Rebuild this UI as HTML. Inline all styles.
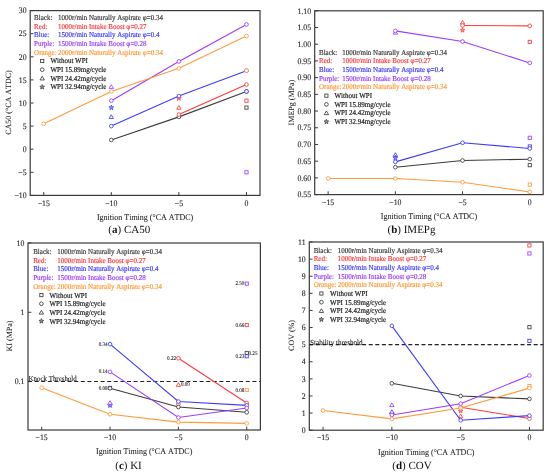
<!DOCTYPE html>
<html><head><meta charset="utf-8"><style>
html,body{margin:0;padding:0;background:#fff;width:550px;height:473px;overflow:hidden;}
svg{display:block;filter:blur(0.3px);color:#222;}
text{font-family:"Liberation Serif", serif;text-rendering:geometricPrecision;font-kerning:none;stroke:currentColor;stroke-width:0.18px;}
</style></head><body>
<svg width="550" height="473" viewBox="0 0 550 473">
<rect width="550" height="473" fill="#fff"/>
<rect x="30.20" y="10.60" width="229.80" height="184.80" fill="none" stroke="#3a3a3a" stroke-width="1.2"/>
<line x1="30.20" y1="195.40" x2="33.50" y2="195.40" stroke="#3a3a3a" stroke-width="1"/>
<text transform="translate(26.60,198.10) scale(1,1.08)" font-size="7.8" text-anchor="end" fill="#222" color="#222" style="stroke-width:0.1px">−10</text>
<line x1="30.20" y1="172.30" x2="33.50" y2="172.30" stroke="#3a3a3a" stroke-width="1"/>
<text transform="translate(26.60,175.00) scale(1,1.08)" font-size="7.8" text-anchor="end" fill="#222" color="#222" style="stroke-width:0.1px">−5</text>
<line x1="30.20" y1="149.20" x2="33.50" y2="149.20" stroke="#3a3a3a" stroke-width="1"/>
<text transform="translate(26.60,151.90) scale(1,1.08)" font-size="7.8" text-anchor="end" fill="#222" color="#222" style="stroke-width:0.1px">0</text>
<line x1="30.20" y1="126.10" x2="33.50" y2="126.10" stroke="#3a3a3a" stroke-width="1"/>
<text transform="translate(26.60,128.80) scale(1,1.08)" font-size="7.8" text-anchor="end" fill="#222" color="#222" style="stroke-width:0.1px">5</text>
<line x1="30.20" y1="103.00" x2="33.50" y2="103.00" stroke="#3a3a3a" stroke-width="1"/>
<text transform="translate(26.60,105.70) scale(1,1.08)" font-size="7.8" text-anchor="end" fill="#222" color="#222" style="stroke-width:0.1px">10</text>
<line x1="30.20" y1="79.90" x2="33.50" y2="79.90" stroke="#3a3a3a" stroke-width="1"/>
<text transform="translate(26.60,82.60) scale(1,1.08)" font-size="7.8" text-anchor="end" fill="#222" color="#222" style="stroke-width:0.1px">15</text>
<line x1="30.20" y1="56.80" x2="33.50" y2="56.80" stroke="#3a3a3a" stroke-width="1"/>
<text transform="translate(26.60,59.50) scale(1,1.08)" font-size="7.8" text-anchor="end" fill="#222" color="#222" style="stroke-width:0.1px">20</text>
<line x1="30.20" y1="33.70" x2="33.50" y2="33.70" stroke="#3a3a3a" stroke-width="1"/>
<text transform="translate(26.60,36.40) scale(1,1.08)" font-size="7.8" text-anchor="end" fill="#222" color="#222" style="stroke-width:0.1px">25</text>
<line x1="30.20" y1="10.60" x2="33.50" y2="10.60" stroke="#3a3a3a" stroke-width="1"/>
<text transform="translate(26.60,13.30) scale(1,1.08)" font-size="7.8" text-anchor="end" fill="#222" color="#222" style="stroke-width:0.1px">30</text>
<line x1="43.72" y1="195.40" x2="43.72" y2="192.10" stroke="#3a3a3a" stroke-width="1"/>
<text transform="translate(43.72,205.60) scale(1,1.08)" font-size="7.8" text-anchor="middle" fill="#222" color="#222" style="stroke-width:0.1px">−15</text>
<line x1="111.31" y1="195.40" x2="111.31" y2="192.10" stroke="#3a3a3a" stroke-width="1"/>
<text transform="translate(111.31,205.60) scale(1,1.08)" font-size="7.8" text-anchor="middle" fill="#222" color="#222" style="stroke-width:0.1px">−10</text>
<line x1="178.89" y1="195.40" x2="178.89" y2="192.10" stroke="#3a3a3a" stroke-width="1"/>
<text transform="translate(178.89,205.60) scale(1,1.08)" font-size="7.8" text-anchor="middle" fill="#222" color="#222" style="stroke-width:0.1px">−5</text>
<line x1="246.48" y1="195.40" x2="246.48" y2="192.10" stroke="#3a3a3a" stroke-width="1"/>
<text transform="translate(246.48,205.60) scale(1,1.08)" font-size="7.8" text-anchor="middle" fill="#222" color="#222" style="stroke-width:0.1px">0</text>
<text transform="translate(34.10,20.00) scale(1,1.08)" font-size="7.0" text-anchor="start" fill="#3c3c3c" color="#3c3c3c">Black:</text>
<text transform="translate(58.10,20.00) scale(1,1.08)" font-size="7.0" text-anchor="start" fill="#3c3c3c" color="#3c3c3c">1000r/min Naturally Aspirate φ=0.34</text>
<text transform="translate(34.10,28.68) scale(1,1.08)" font-size="7.0" text-anchor="start" fill="#ff3b3b" color="#ff3b3b">Red:</text>
<text transform="translate(58.10,28.68) scale(1,1.08)" font-size="7.0" text-anchor="start" fill="#ff3b3b" color="#ff3b3b">1000r/min Intake Boost φ=0.27</text>
<text transform="translate(34.10,37.36) scale(1,1.08)" font-size="7.0" text-anchor="start" fill="#3b3bff" color="#3b3bff">Blue:</text>
<text transform="translate(58.10,37.36) scale(1,1.08)" font-size="7.0" text-anchor="start" fill="#3b3bff" color="#3b3bff">1500r/min Naturally Aspirate φ=0.4</text>
<text transform="translate(34.10,46.04) scale(1,1.08)" font-size="7.0" text-anchor="start" fill="#9b3bff" color="#9b3bff">Purple:</text>
<text transform="translate(58.10,46.04) scale(1,1.08)" font-size="7.0" text-anchor="start" fill="#9b3bff" color="#9b3bff">1500r/min Intake Boost φ=0.28</text>
<text transform="translate(34.10,54.72) scale(1,1.08)" font-size="7.0" text-anchor="start" fill="#ff9b3b" color="#ff9b3b">Orange:</text>
<text transform="translate(58.10,54.72) scale(1,1.08)" font-size="7.0" text-anchor="start" fill="#ff9b3b" color="#ff9b3b">2000r/min Naturally Aspirate φ=0.34</text>
<rect x="40.60" y="59.40" width="3.2" height="3.2" fill="#fff" stroke="#3c3c3c" stroke-width="0.85"/>
<text transform="translate(50.40,63.40) scale(1,1.08)" font-size="7.0" text-anchor="start" fill="#222" color="#222">Without WPI</text>
<circle cx="42.20" cy="69.68" r="1.85" fill="#fff" stroke="#3c3c3c" stroke-width="0.85"/>
<text transform="translate(50.40,72.08) scale(1,1.08)" font-size="7.0" text-anchor="start" fill="#222" color="#222">WPI 15.89mg/cycle</text>
<path d="M42.20,76.26 L44.40,79.96 L40.00,79.96 Z" fill="#fff" stroke="#3c3c3c" stroke-width="0.85"/>
<text transform="translate(50.40,80.76) scale(1,1.08)" font-size="7.0" text-anchor="start" fill="#222" color="#222">WPI 24.42mg/cycle</text>
<polygon points="42.20,84.54 42.85,86.15 44.58,86.27 43.25,87.38 43.67,89.06 42.20,88.14 40.73,89.06 41.15,87.38 39.82,86.27 41.55,86.15" fill="#3c3c3c" fill-opacity="0.55" stroke="#3c3c3c" stroke-width="0.7"/>
<text transform="translate(50.40,89.44) scale(1,1.08)" font-size="7.0" text-anchor="start" fill="#222" color="#222">WPI 32.94mg/cycle</text>
<rect x="244.88" y="106.02" width="3.2" height="3.2" fill="#fff" stroke="#3c3c3c" stroke-width="0.85"/>
<rect x="244.88" y="99.09" width="3.2" height="3.2" fill="#fff" stroke="#ff3b3b" stroke-width="0.85"/>
<path d="M178.89,105.52 L181.09,109.22 L176.69,109.22 Z" fill="#fff" stroke="#ff3b3b" stroke-width="0.85"/>
<polygon points="178.89,95.88 179.54,97.49 181.27,97.61 179.94,98.72 180.36,100.40 178.89,99.48 177.42,100.40 177.85,98.72 176.52,97.61 178.25,97.49" fill="#ff3b3b" fill-opacity="0.55" stroke="#ff3b3b" stroke-width="0.7"/>
<path d="M111.31,114.76 L113.51,118.46 L109.11,118.46 Z" fill="#fff" stroke="#3b3bff" stroke-width="0.85"/>
<polygon points="111.31,105.12 111.95,106.73 113.68,106.85 112.35,107.96 112.78,109.64 111.31,108.72 109.84,109.64 110.26,107.96 108.93,106.85 110.66,106.73" fill="#3b3bff" fill-opacity="0.55" stroke="#3b3bff" stroke-width="0.7"/>
<path d="M111.31,84.73 L113.51,88.43 L109.11,88.43 Z" fill="#fff" stroke="#9b3bff" stroke-width="0.85"/>
<rect x="244.88" y="170.70" width="3.2" height="3.2" fill="#fff" stroke="#9b3bff" stroke-width="0.85"/>
<polyline points="111.31,139.96 178.89,116.86 246.48,91.45" fill="none" stroke="#3c3c3c" stroke-width="1.1"/>
<circle cx="111.31" cy="139.96" r="1.85" fill="#fff" stroke="#3c3c3c" stroke-width="0.85"/>
<circle cx="178.89" cy="116.86" r="1.85" fill="#fff" stroke="#3c3c3c" stroke-width="0.85"/>
<circle cx="246.48" cy="91.45" r="1.85" fill="#fff" stroke="#3c3c3c" stroke-width="0.85"/>
<polyline points="178.89,114.55 246.48,84.52" fill="none" stroke="#ff3b3b" stroke-width="1.1"/>
<circle cx="178.89" cy="114.55" r="1.85" fill="#fff" stroke="#ff3b3b" stroke-width="0.85"/>
<circle cx="246.48" cy="84.52" r="1.85" fill="#fff" stroke="#ff3b3b" stroke-width="0.85"/>
<polyline points="111.31,126.10 178.89,96.07 246.48,70.66" fill="none" stroke="#3b3bff" stroke-width="1.1"/>
<circle cx="111.31" cy="126.10" r="1.85" fill="#fff" stroke="#3b3bff" stroke-width="0.85"/>
<circle cx="178.89" cy="96.07" r="1.85" fill="#fff" stroke="#3b3bff" stroke-width="0.85"/>
<circle cx="246.48" cy="70.66" r="1.85" fill="#fff" stroke="#3b3bff" stroke-width="0.85"/>
<polyline points="111.31,100.69 178.89,61.42 246.48,24.46" fill="none" stroke="#9b3bff" stroke-width="1.1"/>
<circle cx="111.31" cy="100.69" r="1.85" fill="#fff" stroke="#9b3bff" stroke-width="0.85"/>
<circle cx="178.89" cy="61.42" r="1.85" fill="#fff" stroke="#9b3bff" stroke-width="0.85"/>
<circle cx="246.48" cy="24.46" r="1.85" fill="#fff" stroke="#9b3bff" stroke-width="0.85"/>
<polyline points="43.72,123.79 111.31,91.45 178.89,68.35 246.48,36.01" fill="none" stroke="#ff9b3b" stroke-width="1.1"/>
<circle cx="43.72" cy="123.79" r="1.85" fill="#fff" stroke="#ff9b3b" stroke-width="0.85"/>
<circle cx="111.31" cy="91.45" r="1.85" fill="#fff" stroke="#ff9b3b" stroke-width="0.85"/>
<circle cx="178.89" cy="68.35" r="1.85" fill="#fff" stroke="#ff9b3b" stroke-width="0.85"/>
<circle cx="246.48" cy="36.01" r="1.85" fill="#fff" stroke="#ff9b3b" stroke-width="0.85"/>
<circle cx="246.48" cy="91.45" r="1.85" fill="#fff" stroke="#3b3bff" stroke-width="0.85"/>
<circle cx="246.48" cy="70.66" r="1.85" fill="#fff" stroke="#ff9b3b" stroke-width="0.85"/>
<text transform="translate(145.10,219.60) scale(1,1.08)" font-size="8.0" text-anchor="middle" fill="#222" color="#222" style="stroke-width:0.06px">Ignition Timing (°CA ATDC)</text>
<text transform="translate(11.20,102.50) rotate(-90)" font-size="8.0" text-anchor="middle" fill="#222" color="#222" style="stroke-width:0.06px">CA50 (°CA ATDC)</text>
<text x="129.30" y="233.20" font-size="11" text-anchor="middle" fill="#111" style="stroke:none">(<tspan font-weight="bold">a</tspan>) CA50</text>
<rect x="314.70" y="10.80" width="228.50" height="183.80" fill="none" stroke="#3a3a3a" stroke-width="1.2"/>
<line x1="314.70" y1="194.60" x2="318.00" y2="194.60" stroke="#3a3a3a" stroke-width="1"/>
<text transform="translate(311.10,197.30) scale(1,1.08)" font-size="7.8" text-anchor="end" fill="#222" color="#222" style="stroke-width:0.1px">0.55</text>
<line x1="314.70" y1="177.89" x2="318.00" y2="177.89" stroke="#3a3a3a" stroke-width="1"/>
<text transform="translate(311.10,180.59) scale(1,1.08)" font-size="7.8" text-anchor="end" fill="#222" color="#222" style="stroke-width:0.1px">0.60</text>
<line x1="314.70" y1="161.18" x2="318.00" y2="161.18" stroke="#3a3a3a" stroke-width="1"/>
<text transform="translate(311.10,163.88) scale(1,1.08)" font-size="7.8" text-anchor="end" fill="#222" color="#222" style="stroke-width:0.1px">0.65</text>
<line x1="314.70" y1="144.47" x2="318.00" y2="144.47" stroke="#3a3a3a" stroke-width="1"/>
<text transform="translate(311.10,147.17) scale(1,1.08)" font-size="7.8" text-anchor="end" fill="#222" color="#222" style="stroke-width:0.1px">0.70</text>
<line x1="314.70" y1="127.76" x2="318.00" y2="127.76" stroke="#3a3a3a" stroke-width="1"/>
<text transform="translate(311.10,130.46) scale(1,1.08)" font-size="7.8" text-anchor="end" fill="#222" color="#222" style="stroke-width:0.1px">0.75</text>
<line x1="314.70" y1="111.05" x2="318.00" y2="111.05" stroke="#3a3a3a" stroke-width="1"/>
<text transform="translate(311.10,113.75) scale(1,1.08)" font-size="7.8" text-anchor="end" fill="#222" color="#222" style="stroke-width:0.1px">0.80</text>
<line x1="314.70" y1="94.35" x2="318.00" y2="94.35" stroke="#3a3a3a" stroke-width="1"/>
<text transform="translate(311.10,97.05) scale(1,1.08)" font-size="7.8" text-anchor="end" fill="#222" color="#222" style="stroke-width:0.1px">0.85</text>
<line x1="314.70" y1="77.64" x2="318.00" y2="77.64" stroke="#3a3a3a" stroke-width="1"/>
<text transform="translate(311.10,80.34) scale(1,1.08)" font-size="7.8" text-anchor="end" fill="#222" color="#222" style="stroke-width:0.1px">0.90</text>
<line x1="314.70" y1="60.93" x2="318.00" y2="60.93" stroke="#3a3a3a" stroke-width="1"/>
<text transform="translate(311.10,63.63) scale(1,1.08)" font-size="7.8" text-anchor="end" fill="#222" color="#222" style="stroke-width:0.1px">0.95</text>
<line x1="314.70" y1="44.22" x2="318.00" y2="44.22" stroke="#3a3a3a" stroke-width="1"/>
<text transform="translate(311.10,46.92) scale(1,1.08)" font-size="7.8" text-anchor="end" fill="#222" color="#222" style="stroke-width:0.1px">1.00</text>
<line x1="314.70" y1="27.51" x2="318.00" y2="27.51" stroke="#3a3a3a" stroke-width="1"/>
<text transform="translate(311.10,30.21) scale(1,1.08)" font-size="7.8" text-anchor="end" fill="#222" color="#222" style="stroke-width:0.1px">1.05</text>
<line x1="314.70" y1="10.80" x2="318.00" y2="10.80" stroke="#3a3a3a" stroke-width="1"/>
<text transform="translate(311.10,13.50) scale(1,1.08)" font-size="7.8" text-anchor="end" fill="#222" color="#222" style="stroke-width:0.1px">1.10</text>
<line x1="328.14" y1="194.60" x2="328.14" y2="191.30" stroke="#3a3a3a" stroke-width="1"/>
<text transform="translate(328.14,205.30) scale(1,1.08)" font-size="7.8" text-anchor="middle" fill="#222" color="#222" style="stroke-width:0.1px">−15</text>
<line x1="395.35" y1="194.60" x2="395.35" y2="191.30" stroke="#3a3a3a" stroke-width="1"/>
<text transform="translate(395.35,205.30) scale(1,1.08)" font-size="7.8" text-anchor="middle" fill="#222" color="#222" style="stroke-width:0.1px">−10</text>
<line x1="462.55" y1="194.60" x2="462.55" y2="191.30" stroke="#3a3a3a" stroke-width="1"/>
<text transform="translate(462.55,205.30) scale(1,1.08)" font-size="7.8" text-anchor="middle" fill="#222" color="#222" style="stroke-width:0.1px">−5</text>
<line x1="529.76" y1="194.60" x2="529.76" y2="191.30" stroke="#3a3a3a" stroke-width="1"/>
<text transform="translate(529.76,205.30) scale(1,1.08)" font-size="7.8" text-anchor="middle" fill="#222" color="#222" style="stroke-width:0.1px">0</text>
<text transform="translate(319.00,54.70) scale(1,1.08)" font-size="7.0" text-anchor="start" fill="#3c3c3c" color="#3c3c3c">Black:</text>
<text transform="translate(342.20,54.70) scale(1,1.08)" font-size="7.0" text-anchor="start" fill="#3c3c3c" color="#3c3c3c">1000r/min Naturally Aspirate φ=0.34</text>
<text transform="translate(319.00,63.38) scale(1,1.08)" font-size="7.0" text-anchor="start" fill="#ff3b3b" color="#ff3b3b">Red:</text>
<text transform="translate(342.20,63.38) scale(1,1.08)" font-size="7.0" text-anchor="start" fill="#ff3b3b" color="#ff3b3b">1000r/min Intake Boost φ=0.27</text>
<text transform="translate(319.00,72.06) scale(1,1.08)" font-size="7.0" text-anchor="start" fill="#3b3bff" color="#3b3bff">Blue:</text>
<text transform="translate(342.20,72.06) scale(1,1.08)" font-size="7.0" text-anchor="start" fill="#3b3bff" color="#3b3bff">1500r/min Naturally Aspirate φ=0.4</text>
<text transform="translate(319.00,80.74) scale(1,1.08)" font-size="7.0" text-anchor="start" fill="#9b3bff" color="#9b3bff">Purple:</text>
<text transform="translate(342.20,80.74) scale(1,1.08)" font-size="7.0" text-anchor="start" fill="#9b3bff" color="#9b3bff">1500r/min Intake Boost φ=0.28</text>
<text transform="translate(319.00,89.42) scale(1,1.08)" font-size="7.0" text-anchor="start" fill="#ff9b3b" color="#ff9b3b">Orange:</text>
<text transform="translate(342.20,89.42) scale(1,1.08)" font-size="7.0" text-anchor="start" fill="#ff9b3b" color="#ff9b3b">2000r/min Naturally Aspirate φ=0.34</text>
<rect x="324.80" y="94.10" width="3.2" height="3.2" fill="#fff" stroke="#3c3c3c" stroke-width="0.85"/>
<text transform="translate(334.50,98.10) scale(1,1.08)" font-size="7.0" text-anchor="start" fill="#222" color="#222">Without WPI</text>
<circle cx="326.40" cy="104.38" r="1.85" fill="#fff" stroke="#3c3c3c" stroke-width="0.85"/>
<text transform="translate(334.50,106.78) scale(1,1.08)" font-size="7.0" text-anchor="start" fill="#222" color="#222">WPI 15.89mg/cycle</text>
<path d="M326.40,110.96 L328.60,114.66 L324.20,114.66 Z" fill="#fff" stroke="#3c3c3c" stroke-width="0.85"/>
<text transform="translate(334.50,115.46) scale(1,1.08)" font-size="7.0" text-anchor="start" fill="#222" color="#222">WPI 24.42mg/cycle</text>
<polygon points="326.40,119.24 327.05,120.85 328.78,120.97 327.45,122.08 327.87,123.76 326.40,122.84 324.93,123.76 325.35,122.08 324.02,120.97 325.75,120.85" fill="#3c3c3c" fill-opacity="0.55" stroke="#3c3c3c" stroke-width="0.7"/>
<text transform="translate(334.50,124.14) scale(1,1.08)" font-size="7.0" text-anchor="start" fill="#222" color="#222">WPI 32.94mg/cycle</text>
<rect x="528.16" y="163.59" width="3.2" height="3.2" fill="#fff" stroke="#3c3c3c" stroke-width="0.85"/>
<rect x="528.16" y="40.28" width="3.2" height="3.2" fill="#fff" stroke="#ff3b3b" stroke-width="0.85"/>
<path d="M462.55,20.40 L464.75,24.10 L460.35,24.10 Z" fill="#fff" stroke="#ff3b3b" stroke-width="0.85"/>
<polygon points="462.55,27.68 463.20,29.29 464.93,29.41 463.60,30.52 464.02,32.21 462.55,31.28 461.08,32.21 461.51,30.52 460.18,29.41 461.91,29.29" fill="#ff3b3b" fill-opacity="0.55" stroke="#ff3b3b" stroke-width="0.7"/>
<path d="M395.35,152.73 L397.55,156.43 L393.15,156.43 Z" fill="#fff" stroke="#3b3bff" stroke-width="0.85"/>
<polygon points="395.35,155.34 395.99,156.95 397.72,157.07 396.39,158.18 396.82,159.86 395.35,158.94 393.88,159.86 394.30,158.18 392.97,157.07 394.70,156.95" fill="#3b3bff" fill-opacity="0.55" stroke="#3b3bff" stroke-width="0.7"/>
<rect x="528.16" y="144.88" width="3.2" height="3.2" fill="#fff" stroke="#3b3bff" stroke-width="0.85"/>
<path d="M395.35,30.42 L397.55,34.12 L393.15,34.12 Z" fill="#fff" stroke="#9b3bff" stroke-width="0.85"/>
<rect x="528.16" y="136.19" width="3.2" height="3.2" fill="#fff" stroke="#9b3bff" stroke-width="0.85"/>
<rect x="528.16" y="182.97" width="3.2" height="3.2" fill="#fff" stroke="#ff9b3b" stroke-width="0.85"/>
<polyline points="395.35,167.20 462.55,160.51 529.76,159.18" fill="none" stroke="#3c3c3c" stroke-width="1.1"/>
<circle cx="395.35" cy="167.20" r="1.85" fill="#fff" stroke="#3c3c3c" stroke-width="0.85"/>
<circle cx="462.55" cy="160.51" r="1.85" fill="#fff" stroke="#3c3c3c" stroke-width="0.85"/>
<circle cx="529.76" cy="159.18" r="1.85" fill="#fff" stroke="#3c3c3c" stroke-width="0.85"/>
<polyline points="462.55,25.50 529.76,25.84" fill="none" stroke="#ff3b3b" stroke-width="1.1"/>
<circle cx="462.55" cy="25.50" r="1.85" fill="#fff" stroke="#ff3b3b" stroke-width="0.85"/>
<circle cx="529.76" cy="25.84" r="1.85" fill="#fff" stroke="#ff3b3b" stroke-width="0.85"/>
<polyline points="395.35,161.85 462.55,142.80 529.76,148.48" fill="none" stroke="#3b3bff" stroke-width="1.1"/>
<circle cx="395.35" cy="161.85" r="1.85" fill="#fff" stroke="#3b3bff" stroke-width="0.85"/>
<circle cx="462.55" cy="142.80" r="1.85" fill="#fff" stroke="#3b3bff" stroke-width="0.85"/>
<circle cx="529.76" cy="148.48" r="1.85" fill="#fff" stroke="#3b3bff" stroke-width="0.85"/>
<polyline points="395.35,30.85 462.55,41.54 529.76,62.93" fill="none" stroke="#9b3bff" stroke-width="1.1"/>
<circle cx="395.35" cy="30.85" r="1.85" fill="#fff" stroke="#9b3bff" stroke-width="0.85"/>
<circle cx="462.55" cy="41.54" r="1.85" fill="#fff" stroke="#9b3bff" stroke-width="0.85"/>
<circle cx="529.76" cy="62.93" r="1.85" fill="#fff" stroke="#9b3bff" stroke-width="0.85"/>
<polyline points="328.14,178.56 395.35,178.56 462.55,182.24 529.76,191.93" fill="none" stroke="#ff9b3b" stroke-width="1.1"/>
<circle cx="328.14" cy="178.56" r="1.85" fill="#fff" stroke="#ff9b3b" stroke-width="0.85"/>
<circle cx="395.35" cy="178.56" r="1.85" fill="#fff" stroke="#ff9b3b" stroke-width="0.85"/>
<circle cx="462.55" cy="182.24" r="1.85" fill="#fff" stroke="#ff9b3b" stroke-width="0.85"/>
<circle cx="529.76" cy="191.93" r="1.85" fill="#fff" stroke="#ff9b3b" stroke-width="0.85"/>
<text transform="translate(428.95,219.40) scale(1,1.08)" font-size="8.0" text-anchor="middle" fill="#222" color="#222" style="stroke-width:0.06px">Ignition Timing (°CA ATDC)</text>
<text transform="translate(294.20,102.60) rotate(-90)" font-size="8.0" text-anchor="middle" fill="#222" color="#222" style="stroke-width:0.06px">IMEPg (MPa)</text>
<text x="411.50" y="233.20" font-size="11" text-anchor="middle" fill="#111" style="stroke:none">(<tspan font-weight="bold">b</tspan>) IMEPg</text>
<rect x="28.00" y="243.00" width="232.40" height="187.00" fill="none" stroke="#3a3a3a" stroke-width="1.2"/>
<line x1="28.00" y1="243.00" x2="31.30" y2="243.00" stroke="#3a3a3a" stroke-width="1"/>
<text transform="translate(24.40,245.70) scale(1,1.08)" font-size="7.8" text-anchor="end" fill="#222" color="#222" style="stroke-width:0.1px">10</text>
<line x1="28.00" y1="312.29" x2="31.30" y2="312.29" stroke="#3a3a3a" stroke-width="1"/>
<text transform="translate(24.40,314.99) scale(1,1.08)" font-size="7.8" text-anchor="end" fill="#222" color="#222" style="stroke-width:0.1px">1</text>
<line x1="28.00" y1="381.57" x2="31.30" y2="381.57" stroke="#3a3a3a" stroke-width="1"/>
<text transform="translate(24.40,384.27) scale(1,1.08)" font-size="7.8" text-anchor="end" fill="#222" color="#222" style="stroke-width:0.1px">0.1</text>
<line x1="41.67" y1="430.00" x2="41.67" y2="426.70" stroke="#3a3a3a" stroke-width="1"/>
<text transform="translate(41.67,440.00) scale(1,1.08)" font-size="7.8" text-anchor="middle" fill="#222" color="#222" style="stroke-width:0.1px">−15</text>
<line x1="110.02" y1="430.00" x2="110.02" y2="426.70" stroke="#3a3a3a" stroke-width="1"/>
<text transform="translate(110.02,440.00) scale(1,1.08)" font-size="7.8" text-anchor="middle" fill="#222" color="#222" style="stroke-width:0.1px">−10</text>
<line x1="178.38" y1="430.00" x2="178.38" y2="426.70" stroke="#3a3a3a" stroke-width="1"/>
<text transform="translate(178.38,440.00) scale(1,1.08)" font-size="7.8" text-anchor="middle" fill="#222" color="#222" style="stroke-width:0.1px">−5</text>
<line x1="246.73" y1="430.00" x2="246.73" y2="426.70" stroke="#3a3a3a" stroke-width="1"/>
<text transform="translate(246.73,440.00) scale(1,1.08)" font-size="7.8" text-anchor="middle" fill="#222" color="#222" style="stroke-width:0.1px">0</text>
<text transform="translate(33.20,254.10) scale(1,1.08)" font-size="7.0" text-anchor="start" fill="#3c3c3c" color="#3c3c3c">Black:</text>
<text transform="translate(57.20,254.10) scale(1,1.08)" font-size="7.0" text-anchor="start" fill="#3c3c3c" color="#3c3c3c">1000r/min Naturally Aspirate φ=0.34</text>
<text transform="translate(33.20,262.78) scale(1,1.08)" font-size="7.0" text-anchor="start" fill="#ff3b3b" color="#ff3b3b">Red:</text>
<text transform="translate(57.20,262.78) scale(1,1.08)" font-size="7.0" text-anchor="start" fill="#ff3b3b" color="#ff3b3b">1000r/min Intake Boost φ=0.27</text>
<text transform="translate(33.20,271.46) scale(1,1.08)" font-size="7.0" text-anchor="start" fill="#3b3bff" color="#3b3bff">Blue:</text>
<text transform="translate(57.20,271.46) scale(1,1.08)" font-size="7.0" text-anchor="start" fill="#3b3bff" color="#3b3bff">1500r/min Naturally Aspirate φ=0.4</text>
<text transform="translate(33.20,280.14) scale(1,1.08)" font-size="7.0" text-anchor="start" fill="#9b3bff" color="#9b3bff">Purple:</text>
<text transform="translate(57.20,280.14) scale(1,1.08)" font-size="7.0" text-anchor="start" fill="#9b3bff" color="#9b3bff">1500r/min Intake Boost φ=0.28</text>
<text transform="translate(33.20,288.82) scale(1,1.08)" font-size="7.0" text-anchor="start" fill="#ff9b3b" color="#ff9b3b">Orange:</text>
<text transform="translate(57.20,288.82) scale(1,1.08)" font-size="7.0" text-anchor="start" fill="#ff9b3b" color="#ff9b3b">2000r/min Naturally Aspirate φ=0.34</text>
<rect x="39.80" y="293.50" width="3.2" height="3.2" fill="#fff" stroke="#3c3c3c" stroke-width="0.85"/>
<text transform="translate(49.50,297.50) scale(1,1.08)" font-size="7.0" text-anchor="start" fill="#222" color="#222">Without WPI</text>
<circle cx="41.40" cy="303.78" r="1.85" fill="#fff" stroke="#3c3c3c" stroke-width="0.85"/>
<text transform="translate(49.50,306.18) scale(1,1.08)" font-size="7.0" text-anchor="start" fill="#222" color="#222">WPI 15.89mg/cycle</text>
<path d="M41.40,310.36 L43.60,314.06 L39.20,314.06 Z" fill="#fff" stroke="#3c3c3c" stroke-width="0.85"/>
<text transform="translate(49.50,314.86) scale(1,1.08)" font-size="7.0" text-anchor="start" fill="#222" color="#222">WPI 24.42mg/cycle</text>
<polygon points="41.40,318.64 42.05,320.25 43.78,320.37 42.45,321.48 42.87,323.16 41.40,322.24 39.93,323.16 40.35,321.48 39.02,320.37 40.75,320.25" fill="#3c3c3c" fill-opacity="0.55" stroke="#3c3c3c" stroke-width="0.7"/>
<text transform="translate(49.50,323.54) scale(1,1.08)" font-size="7.0" text-anchor="start" fill="#222" color="#222">WPI 32.94mg/cycle</text>
<line x1="28.00" y1="381.57" x2="260.40" y2="381.57" stroke="#222" stroke-width="1.1" stroke-dasharray="4,2.6"/>
<text transform="translate(28.60,380.87) scale(1,1.08)" font-size="6.9" text-anchor="start" fill="#222" color="#222" style="stroke-width:0.1px">Knock Threshold</text>
<rect x="245.13" y="351.34" width="3.2" height="3.2" fill="#fff" stroke="#3c3c3c" stroke-width="0.85"/>
<rect x="245.13" y="323.46" width="3.2" height="3.2" fill="#fff" stroke="#ff3b3b" stroke-width="0.85"/>
<path d="M178.38,382.68 L180.58,386.38 L176.18,386.38 Z" fill="#fff" stroke="#ff3b3b" stroke-width="0.85"/>
<circle cx="178.38" cy="404.10" r="1.85" fill="#fff" stroke="#ff3b3b" stroke-width="0.85"/>
<rect x="245.13" y="354.65" width="3.2" height="3.2" fill="#fff" stroke="#3b3bff" stroke-width="0.85"/>
<polygon points="110.02,402.90 110.67,404.51 112.40,404.63 111.07,405.74 111.49,407.42 110.02,406.50 108.55,407.42 108.98,405.74 107.65,404.63 109.38,404.51" fill="#3b3bff" fill-opacity="0.55" stroke="#3b3bff" stroke-width="0.7"/>
<rect x="108.42" y="386.31" width="3.2" height="3.2" fill="#fff" stroke="#3b3bff" stroke-width="0.85"/>
<rect x="245.13" y="282.05" width="3.2" height="3.2" fill="#fff" stroke="#9b3bff" stroke-width="0.85"/>
<path d="M110.02,400.69 L112.22,404.39 L107.82,404.39 Z" fill="#fff" stroke="#9b3bff" stroke-width="0.85"/>
<rect x="245.13" y="388.39" width="3.2" height="3.2" fill="#fff" stroke="#ff9b3b" stroke-width="0.85"/>
<polyline points="110.02,388.29 178.38,406.97 246.73,412.31" fill="none" stroke="#3c3c3c" stroke-width="1.1"/>
<circle cx="110.02" cy="388.29" r="1.85" fill="#fff" stroke="#3c3c3c" stroke-width="0.85"/>
<circle cx="178.38" cy="406.97" r="1.85" fill="#fff" stroke="#3c3c3c" stroke-width="0.85"/>
<circle cx="246.73" cy="412.31" r="1.85" fill="#fff" stroke="#3c3c3c" stroke-width="0.85"/>
<polyline points="178.38,358.26 246.73,403.04" fill="none" stroke="#ff3b3b" stroke-width="1.1"/>
<circle cx="178.38" cy="358.26" r="1.85" fill="#fff" stroke="#ff3b3b" stroke-width="0.85"/>
<circle cx="246.73" cy="403.04" r="1.85" fill="#fff" stroke="#ff3b3b" stroke-width="0.85"/>
<polyline points="110.02,344.13 178.38,401.54 246.73,405.40" fill="none" stroke="#3b3bff" stroke-width="1.1"/>
<circle cx="110.02" cy="344.13" r="1.85" fill="#fff" stroke="#3b3bff" stroke-width="0.85"/>
<circle cx="178.38" cy="401.54" r="1.85" fill="#fff" stroke="#3b3bff" stroke-width="0.85"/>
<circle cx="246.73" cy="405.40" r="1.85" fill="#fff" stroke="#3b3bff" stroke-width="0.85"/>
<polyline points="110.02,371.88 178.38,417.50 246.73,408.04" fill="none" stroke="#9b3bff" stroke-width="1.1"/>
<circle cx="110.02" cy="371.88" r="1.85" fill="#fff" stroke="#9b3bff" stroke-width="0.85"/>
<circle cx="178.38" cy="417.50" r="1.85" fill="#fff" stroke="#9b3bff" stroke-width="0.85"/>
<circle cx="246.73" cy="408.04" r="1.85" fill="#fff" stroke="#9b3bff" stroke-width="0.85"/>
<polyline points="41.67,387.76 110.02,414.21 178.38,422.11 246.73,423.41" fill="none" stroke="#ff9b3b" stroke-width="1.1"/>
<circle cx="41.67" cy="387.76" r="1.85" fill="#fff" stroke="#ff9b3b" stroke-width="0.85"/>
<circle cx="110.02" cy="414.21" r="1.85" fill="#fff" stroke="#ff9b3b" stroke-width="0.85"/>
<circle cx="178.38" cy="422.11" r="1.85" fill="#fff" stroke="#ff9b3b" stroke-width="0.85"/>
<circle cx="246.73" cy="423.41" r="1.85" fill="#fff" stroke="#ff9b3b" stroke-width="0.85"/>
<text transform="translate(107.62,345.73) scale(1,1.08)" font-size="5.1" text-anchor="end" fill="#222" color="#222" style="stroke-width:0.08px">0.34</text>
<text transform="translate(107.62,373.48) scale(1,1.08)" font-size="5.1" text-anchor="end" fill="#222" color="#222" style="stroke-width:0.08px">0.14</text>
<text transform="translate(107.62,389.89) scale(1,1.08)" font-size="5.1" text-anchor="end" fill="#222" color="#222" style="stroke-width:0.08px">0.08</text>
<text transform="translate(175.98,359.86) scale(1,1.08)" font-size="5.1" text-anchor="end" fill="#222" color="#222" style="stroke-width:0.08px">0.22</text>
<text transform="translate(180.98,386.38) scale(1,1.08)" font-size="5.1" text-anchor="start" fill="#222" color="#222" style="stroke-width:0.08px">0.09</text>
<text transform="translate(244.33,285.25) scale(1,1.08)" font-size="5.1" text-anchor="end" fill="#222" color="#222" style="stroke-width:0.08px">2.59</text>
<text transform="translate(244.33,326.66) scale(1,1.08)" font-size="5.1" text-anchor="end" fill="#222" color="#222" style="stroke-width:0.08px">0.66</text>
<text transform="translate(248.53,354.54) scale(1,1.08)" font-size="5.1" text-anchor="start" fill="#222" color="#222" style="stroke-width:0.08px">0.25</text>
<text transform="translate(244.33,357.85) scale(1,1.08)" font-size="5.1" text-anchor="end" fill="#222" color="#222" style="stroke-width:0.08px">0.23</text>
<text transform="translate(244.33,391.59) scale(1,1.08)" font-size="5.1" text-anchor="end" fill="#222" color="#222" style="stroke-width:0.08px">0.08</text>
<text transform="translate(144.20,454.40) scale(1,1.08)" font-size="8.0" text-anchor="middle" fill="#222" color="#222" style="stroke-width:0.06px">Ignition Timing (°CA ATDC)</text>
<text transform="translate(11.90,336.00) rotate(-90)" font-size="8.0" text-anchor="middle" fill="#222" color="#222" style="stroke-width:0.06px">KI (MPa)</text>
<text x="128.50" y="469.00" font-size="11" text-anchor="middle" fill="#111" style="stroke:none">(<tspan font-weight="bold">c</tspan>) KI</text>
<rect x="309.30" y="242.00" width="233.90" height="188.20" fill="none" stroke="#3a3a3a" stroke-width="1.2"/>
<line x1="309.30" y1="430.20" x2="312.60" y2="430.20" stroke="#3a3a3a" stroke-width="1"/>
<text transform="translate(305.70,432.90) scale(1,1.08)" font-size="7.8" text-anchor="end" fill="#222" color="#222" style="stroke-width:0.1px">0</text>
<line x1="309.30" y1="413.09" x2="312.60" y2="413.09" stroke="#3a3a3a" stroke-width="1"/>
<text transform="translate(305.70,415.79) scale(1,1.08)" font-size="7.8" text-anchor="end" fill="#222" color="#222" style="stroke-width:0.1px">1</text>
<line x1="309.30" y1="395.98" x2="312.60" y2="395.98" stroke="#3a3a3a" stroke-width="1"/>
<text transform="translate(305.70,398.68) scale(1,1.08)" font-size="7.8" text-anchor="end" fill="#222" color="#222" style="stroke-width:0.1px">2</text>
<line x1="309.30" y1="378.87" x2="312.60" y2="378.87" stroke="#3a3a3a" stroke-width="1"/>
<text transform="translate(305.70,381.57) scale(1,1.08)" font-size="7.8" text-anchor="end" fill="#222" color="#222" style="stroke-width:0.1px">3</text>
<line x1="309.30" y1="361.76" x2="312.60" y2="361.76" stroke="#3a3a3a" stroke-width="1"/>
<text transform="translate(305.70,364.46) scale(1,1.08)" font-size="7.8" text-anchor="end" fill="#222" color="#222" style="stroke-width:0.1px">4</text>
<line x1="309.30" y1="344.65" x2="312.60" y2="344.65" stroke="#3a3a3a" stroke-width="1"/>
<text transform="translate(305.70,347.35) scale(1,1.08)" font-size="7.8" text-anchor="end" fill="#222" color="#222" style="stroke-width:0.1px">5</text>
<line x1="309.30" y1="327.55" x2="312.60" y2="327.55" stroke="#3a3a3a" stroke-width="1"/>
<text transform="translate(305.70,330.25) scale(1,1.08)" font-size="7.8" text-anchor="end" fill="#222" color="#222" style="stroke-width:0.1px">6</text>
<line x1="309.30" y1="310.44" x2="312.60" y2="310.44" stroke="#3a3a3a" stroke-width="1"/>
<text transform="translate(305.70,313.14) scale(1,1.08)" font-size="7.8" text-anchor="end" fill="#222" color="#222" style="stroke-width:0.1px">7</text>
<line x1="309.30" y1="293.33" x2="312.60" y2="293.33" stroke="#3a3a3a" stroke-width="1"/>
<text transform="translate(305.70,296.03) scale(1,1.08)" font-size="7.8" text-anchor="end" fill="#222" color="#222" style="stroke-width:0.1px">8</text>
<line x1="309.30" y1="276.22" x2="312.60" y2="276.22" stroke="#3a3a3a" stroke-width="1"/>
<text transform="translate(305.70,278.92) scale(1,1.08)" font-size="7.8" text-anchor="end" fill="#222" color="#222" style="stroke-width:0.1px">9</text>
<line x1="309.30" y1="259.11" x2="312.60" y2="259.11" stroke="#3a3a3a" stroke-width="1"/>
<text transform="translate(305.70,261.81) scale(1,1.08)" font-size="7.8" text-anchor="end" fill="#222" color="#222" style="stroke-width:0.1px">10</text>
<line x1="309.30" y1="242.00" x2="312.60" y2="242.00" stroke="#3a3a3a" stroke-width="1"/>
<text transform="translate(305.70,244.70) scale(1,1.08)" font-size="7.8" text-anchor="end" fill="#222" color="#222" style="stroke-width:0.1px">11</text>
<line x1="323.06" y1="430.20" x2="323.06" y2="426.90" stroke="#3a3a3a" stroke-width="1"/>
<text transform="translate(323.06,440.20) scale(1,1.08)" font-size="7.8" text-anchor="middle" fill="#222" color="#222" style="stroke-width:0.1px">−15</text>
<line x1="391.85" y1="430.20" x2="391.85" y2="426.90" stroke="#3a3a3a" stroke-width="1"/>
<text transform="translate(391.85,440.20) scale(1,1.08)" font-size="7.8" text-anchor="middle" fill="#222" color="#222" style="stroke-width:0.1px">−10</text>
<line x1="460.65" y1="430.20" x2="460.65" y2="426.90" stroke="#3a3a3a" stroke-width="1"/>
<text transform="translate(460.65,440.20) scale(1,1.08)" font-size="7.8" text-anchor="middle" fill="#222" color="#222" style="stroke-width:0.1px">−5</text>
<line x1="529.44" y1="430.20" x2="529.44" y2="426.90" stroke="#3a3a3a" stroke-width="1"/>
<text transform="translate(529.44,440.20) scale(1,1.08)" font-size="7.8" text-anchor="middle" fill="#222" color="#222" style="stroke-width:0.1px">0</text>
<text transform="translate(313.70,252.50) scale(1,1.08)" font-size="7.0" text-anchor="start" fill="#3c3c3c" color="#3c3c3c">Black:</text>
<text transform="translate(337.70,252.50) scale(1,1.08)" font-size="7.0" text-anchor="start" fill="#3c3c3c" color="#3c3c3c">1000r/min Naturally Aspirate φ=0.34</text>
<text transform="translate(313.70,261.18) scale(1,1.08)" font-size="7.0" text-anchor="start" fill="#ff3b3b" color="#ff3b3b">Red:</text>
<text transform="translate(337.70,261.18) scale(1,1.08)" font-size="7.0" text-anchor="start" fill="#ff3b3b" color="#ff3b3b">1000r/min Intake Boost φ=0.27</text>
<text transform="translate(313.70,269.86) scale(1,1.08)" font-size="7.0" text-anchor="start" fill="#3b3bff" color="#3b3bff">Blue:</text>
<text transform="translate(337.70,269.86) scale(1,1.08)" font-size="7.0" text-anchor="start" fill="#3b3bff" color="#3b3bff">1500r/min Naturally Aspirate φ=0.4</text>
<text transform="translate(313.70,278.54) scale(1,1.08)" font-size="7.0" text-anchor="start" fill="#9b3bff" color="#9b3bff">Purple:</text>
<text transform="translate(337.70,278.54) scale(1,1.08)" font-size="7.0" text-anchor="start" fill="#9b3bff" color="#9b3bff">1500r/min Intake Boost φ=0.28</text>
<text transform="translate(313.70,287.22) scale(1,1.08)" font-size="7.0" text-anchor="start" fill="#ff9b3b" color="#ff9b3b">Orange:</text>
<text transform="translate(337.70,287.22) scale(1,1.08)" font-size="7.0" text-anchor="start" fill="#ff9b3b" color="#ff9b3b">2000r/min Naturally Aspirate φ=0.34</text>
<rect x="319.80" y="291.90" width="3.2" height="3.2" fill="#fff" stroke="#3c3c3c" stroke-width="0.85"/>
<text transform="translate(330.10,295.90) scale(1,1.08)" font-size="7.0" text-anchor="start" fill="#222" color="#222">Without WPI</text>
<circle cx="321.40" cy="302.18" r="1.85" fill="#fff" stroke="#3c3c3c" stroke-width="0.85"/>
<text transform="translate(330.10,304.58) scale(1,1.08)" font-size="7.0" text-anchor="start" fill="#222" color="#222">WPI 15.89mg/cycle</text>
<path d="M321.40,308.76 L323.60,312.46 L319.20,312.46 Z" fill="#fff" stroke="#3c3c3c" stroke-width="0.85"/>
<text transform="translate(330.10,313.26) scale(1,1.08)" font-size="7.0" text-anchor="start" fill="#222" color="#222">WPI 24.42mg/cycle</text>
<polygon points="321.40,317.04 322.05,318.65 323.78,318.77 322.45,319.88 322.87,321.56 321.40,320.64 319.93,321.56 320.35,319.88 319.02,318.77 320.75,318.65" fill="#3c3c3c" fill-opacity="0.55" stroke="#3c3c3c" stroke-width="0.7"/>
<text transform="translate(330.10,321.94) scale(1,1.08)" font-size="7.0" text-anchor="start" fill="#222" color="#222">WPI 32.94mg/cycle</text>
<line x1="309.30" y1="344.65" x2="543.20" y2="344.65" stroke="#222" stroke-width="1.1" stroke-dasharray="4,2.6"/>
<text transform="translate(310.10,344.95) scale(1,1.08)" font-size="7.15" text-anchor="start" fill="#222" color="#222" style="stroke-width:0.1px">Stability threshold</text>
<rect x="527.84" y="325.60" width="3.2" height="3.2" fill="#fff" stroke="#3c3c3c" stroke-width="0.85"/>
<rect x="527.84" y="243.82" width="3.2" height="3.2" fill="#fff" stroke="#ff3b3b" stroke-width="0.85"/>
<path d="M460.65,414.07 L462.85,417.77 L458.45,417.77 Z" fill="#fff" stroke="#ff3b3b" stroke-width="0.85"/>
<polygon points="460.65,408.37 461.29,409.98 463.02,410.09 461.69,411.21 462.12,412.89 460.65,411.97 459.18,412.89 459.60,411.21 458.27,410.09 460.00,409.98" fill="#ff3b3b" fill-opacity="0.55" stroke="#ff3b3b" stroke-width="0.7"/>
<rect x="527.84" y="339.29" width="3.2" height="3.2" fill="#fff" stroke="#3b3bff" stroke-width="0.85"/>
<polygon points="391.85,411.45 392.50,413.06 394.23,413.17 392.90,414.29 393.32,415.97 391.85,415.05 390.38,415.97 390.81,414.29 389.48,413.17 391.21,413.06" fill="#3b3bff" fill-opacity="0.55" stroke="#3b3bff" stroke-width="0.7"/>
<path d="M391.85,409.79 L394.05,413.49 L389.65,413.49 Z" fill="#fff" stroke="#3b3bff" stroke-width="0.85"/>
<rect x="527.84" y="251.86" width="3.2" height="3.2" fill="#fff" stroke="#9b3bff" stroke-width="0.85"/>
<path d="M391.85,402.95 L394.05,406.65 L389.65,406.65 Z" fill="#fff" stroke="#9b3bff" stroke-width="0.85"/>
<rect x="527.84" y="384.46" width="3.2" height="3.2" fill="#fff" stroke="#ff9b3b" stroke-width="0.85"/>
<polyline points="391.85,383.32 460.65,395.98 529.44,398.89" fill="none" stroke="#3c3c3c" stroke-width="1.1"/>
<circle cx="391.85" cy="383.32" r="1.85" fill="#fff" stroke="#3c3c3c" stroke-width="0.85"/>
<circle cx="460.65" cy="395.98" r="1.85" fill="#fff" stroke="#3c3c3c" stroke-width="0.85"/>
<circle cx="529.44" cy="398.89" r="1.85" fill="#fff" stroke="#3c3c3c" stroke-width="0.85"/>
<polyline points="460.65,407.27 529.44,418.57" fill="none" stroke="#ff3b3b" stroke-width="1.1"/>
<circle cx="460.65" cy="407.27" r="1.85" fill="#fff" stroke="#ff3b3b" stroke-width="0.85"/>
<circle cx="529.44" cy="418.57" r="1.85" fill="#fff" stroke="#ff3b3b" stroke-width="0.85"/>
<polyline points="391.85,325.83 460.65,420.28 529.44,415.66" fill="none" stroke="#3b3bff" stroke-width="1.1"/>
<circle cx="391.85" cy="325.83" r="1.85" fill="#fff" stroke="#3b3bff" stroke-width="0.85"/>
<circle cx="460.65" cy="420.28" r="1.85" fill="#fff" stroke="#3b3bff" stroke-width="0.85"/>
<circle cx="529.44" cy="415.66" r="1.85" fill="#fff" stroke="#3b3bff" stroke-width="0.85"/>
<polyline points="391.85,414.97 460.65,403.68 529.44,375.45" fill="none" stroke="#9b3bff" stroke-width="1.1"/>
<circle cx="391.85" cy="414.97" r="1.85" fill="#fff" stroke="#9b3bff" stroke-width="0.85"/>
<circle cx="460.65" cy="403.68" r="1.85" fill="#fff" stroke="#9b3bff" stroke-width="0.85"/>
<circle cx="529.44" cy="375.45" r="1.85" fill="#fff" stroke="#9b3bff" stroke-width="0.85"/>
<polyline points="323.06,410.52 391.85,418.91 460.65,407.96 529.44,388.11" fill="none" stroke="#ff9b3b" stroke-width="1.1"/>
<circle cx="323.06" cy="410.52" r="1.85" fill="#fff" stroke="#ff9b3b" stroke-width="0.85"/>
<circle cx="391.85" cy="418.91" r="1.85" fill="#fff" stroke="#ff9b3b" stroke-width="0.85"/>
<circle cx="460.65" cy="407.96" r="1.85" fill="#fff" stroke="#ff9b3b" stroke-width="0.85"/>
<circle cx="529.44" cy="388.11" r="1.85" fill="#fff" stroke="#ff9b3b" stroke-width="0.85"/>
<text transform="translate(426.25,454.80) scale(1,1.08)" font-size="8.0" text-anchor="middle" fill="#222" color="#222" style="stroke-width:0.06px">Ignition Timing (°CA ATDC)</text>
<text transform="translate(294.20,335.50) rotate(-90)" font-size="8.0" text-anchor="middle" fill="#222" color="#222" style="stroke-width:0.06px">COV (%)</text>
<text x="412.00" y="469.00" font-size="11" text-anchor="middle" fill="#111" style="stroke:none">(<tspan font-weight="bold">d</tspan>) COV</text>
</svg>
</body></html>
